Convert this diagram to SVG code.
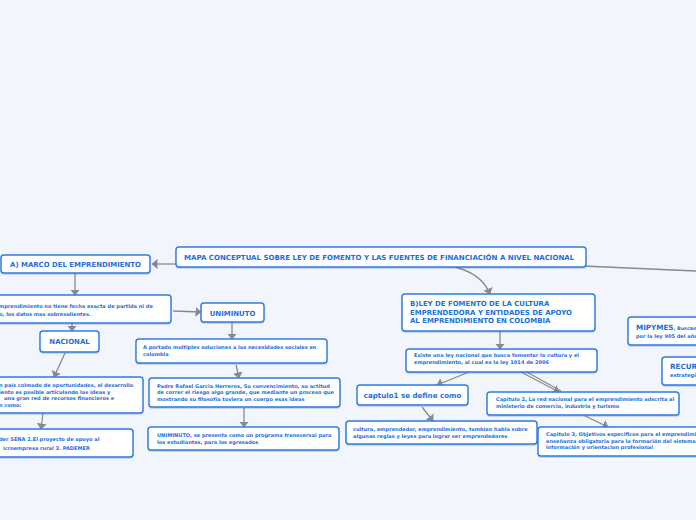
<svg xmlns="http://www.w3.org/2000/svg" width="696" height="520" viewBox="0 0 696 520">
<style>
.bg{fill:#f2f5fc}
.box{fill:#ffffff;stroke:#2d7be0;stroke-width:1.4;filter:url(#sh)}
.t{font-family:"DejaVu Sans",Verdana,sans-serif;font-weight:bold;fill:#1e6fd6}
.s{font-size:5.05px}
.m{font-size:6.95px}
.c{text-anchor:middle}
.cn{fill:none;stroke:#8a8a8a;stroke-width:1.3}
</style>
<defs>
<filter id="sh" x="-10%" y="-20%" width="120%" height="150%">
<feDropShadow dx="0" dy="1" stdDeviation="0.7" flood-color="#1e4f99" flood-opacity="0.25"/>
</filter>
<marker id="ar" viewBox="0 0 6 10" refX="5.5" refY="5" markerWidth="6" markerHeight="10" markerUnits="userSpaceOnUse" orient="auto">
<path d="M0,0 L6,5 L0,10 z" fill="#8a8a8a"/>
</marker>
</defs>
<rect class="bg" x="0" y="0" width="696" height="520"/>

<g id="connectors">
<path class="cn" d="M176,264 L152,264" marker-end="url(#ar)"/>
<path class="cn" d="M75,273 L75,295" marker-end="url(#ar)"/>
<path class="cn" d="M173,311 L201,312" marker-end="url(#ar)"/>
<path class="cn" d="M72,323 L72,331" marker-end="url(#ar)"/>
<path class="cn" d="M65,353 L54,377" marker-end="url(#ar)"/>
<path class="cn" d="M43,413 L41,429" marker-end="url(#ar)"/>
<path class="cn" d="M232,322 L232,339" marker-end="url(#ar)"/>
<path class="cn" d="M236,365 L239,378" marker-end="url(#ar)"/>
<path class="cn" d="M244,408 L244,427" marker-end="url(#ar)"/>
<path class="cn" d="M455,267 Q482,274 490,294" marker-end="url(#ar)"/>
<path class="cn" d="M583,266 L696,271"/>
<path class="cn" d="M500,331 L500,349" marker-end="url(#ar)"/>
<path class="cn" d="M469,372 L437,385" marker-end="url(#ar)"/>
<path class="cn" d="M422,407 L433,421" marker-end="url(#ar)"/>
<path class="cn" d="M521,372 L559,392" marker-end="url(#ar)"/>
<path class="cn" d="M525,371 L561,391"/>
<path class="cn" d="M583,415 L608,427" marker-end="url(#ar)"/>
</g>

<g id="title">
<rect class="box" x="176" y="247" width="410" height="20" rx="3"/>
<text class="t" x="184" y="259.5" font-size="7.02">MAPA CONCEPTUAL SOBRE LEY DE FOMENTO Y LAS FUENTES DE FINANCIACIÓN A NIVEL NACIONAL</text>
</g>

<g id="marco">
<rect class="box" x="1" y="255" width="149" height="18" rx="3"/>
<text class="t m c" x="75.5" y="267">A) MARCO DEL EMPRENDIMIENTO</text>
</g>

<g id="emprendimiento">
<rect class="box" x="-6" y="295" width="177" height="28" rx="3"/>
<text class="t s" x="-1" y="307.5">mprendimiento no tiene fecha exacta de partida ni de</text>
<text class="t s" x="-1" y="315.5">o, los datos mas sobresalientes.</text>
</g>

<g id="uniminuto">
<rect class="box" x="201" y="303" width="63" height="19" rx="3"/>
<text class="t m c" x="232.5" y="315.5">UNIMINUTO</text>
</g>

<g id="nacional">
<rect class="box" x="40" y="331" width="59" height="21" rx="3"/>
<text class="t m c" x="69.5" y="344">NACIONAL</text>
</g>

<g id="pais">
<rect class="box" x="-6" y="377" width="149" height="36" rx="3"/>
<text class="t s" x="-1" y="387">n país colmado de oportunidades, el desarrollo</text>
<text class="t s" x="-1" y="393.5">iento es posible articulando las ideas y</text>
<text class="t s" x="4" y="400">una gran red de recursos financieros e</text>
<text class="t s" x="-1" y="406.5">n como:</text>
</g>

<g id="sena">
<rect class="box" x="-6" y="429" width="139" height="28" rx="3"/>
<text class="t s" x="-1" y="441">der SENA 2.El proyecto de apoyo al</text>
<text class="t s" x="3" y="450">icroempresa rural 3. PADEMER</text>
</g>

<g id="aportado">
<rect class="box" x="136" y="339" width="191" height="24" rx="3"/>
<text class="t s" x="143" y="349">A portado multiples soluciones a las necesidades sociales en</text>
<text class="t s" x="143" y="355.5">colombia</text>
</g>

<g id="padre">
<rect class="box" x="149" y="378" width="191" height="29" rx="3"/>
<text class="t s" x="157" y="387.5">Padre Rafael Garcia Herreros, Su convencimiento, su actitud</text>
<text class="t s" x="157" y="394">de correr el riesgo algo grande, que mediante un proceso que</text>
<text class="t s" x="157" y="400.5">mostrando su filosofía tuviera un cuerpo esas ideas</text>
</g>

<g id="uniminuto2">
<rect class="box" x="148" y="427" width="191" height="23" rx="3"/>
<text class="t s" x="157" y="437">UNIMINUTO, se presenta como un programa transversal para</text>
<text class="t s" x="157" y="443.5">los estudiantes, para los egresados</text>
</g>

<g id="ley">
<rect class="box" x="402" y="294" width="193" height="37" rx="3"/>
<text class="t m" x="410" y="306">B)LEY DE FOMENTO DE LA CULTURA</text>
<text class="t m" x="410" y="314.5">EMPRENDEDORA Y ENTIDADES DE APOYO</text>
<text class="t m" x="410" y="323">AL EMPRENDIMIENTO EN COLOMBIA</text>
</g>

<g id="existe">
<rect class="box" x="406" y="349" width="191" height="23" rx="3"/>
<text class="t s" x="414" y="357">Existe una ley nacional que busca fomentar la cultura y el</text>
<text class="t s" x="414" y="364">emprendimiento, al cual es la ley 1014 de 2006</text>
</g>

<g id="captulo1">
<rect class="box" x="357" y="385" width="111" height="20" rx="3"/>
<text class="t c" x="412.5" y="397.8" font-size="7.1">captulo1 se define como</text>
</g>

<g id="cultura">
<rect class="box" x="346" y="421" width="191" height="23" rx="3"/>
<text class="t s" x="353" y="431">cultura, emprendedor, emprendimiento, tambien habla sobre</text>
<text class="t s" x="353" y="438">algunas reglas y leyes para lograr ser emprendedores</text>
</g>

<g id="capitulo2">
<rect class="box" x="487" y="392" width="192" height="23" rx="3"/>
<text class="t s" x="496" y="401">Capitulo 2, La red nacional para el emprendimiento adscrita al</text>
<text class="t s" x="496" y="407.5">ministerio de  comercio, industria y turismo</text>
</g>

<g id="capitulo3">
<rect class="box" x="538" y="427" width="170" height="29" rx="3"/>
<text class="t s" x="546" y="436">Capitulo 3, Objetivos especificos para el emprendimi</text>
<text class="t s" x="546" y="442.5">enseñanza obligatoria para la formación del sistema e</text>
<text class="t s" x="546" y="449">información y orientacion profesional</text>
</g>

<g id="mipymes">
<rect class="box" x="628" y="317" width="80" height="28" rx="3"/>
<text class="t" x="636" y="329.5"><tspan font-size="7.2">MIPYMES</tspan><tspan font-size="4.8">, Buscan</tspan></text>
<text class="t s" x="636" y="337.5">por la ley 905 del año</text>
</g>

<g id="recursos">
<rect class="box" x="662" y="357" width="50" height="28" rx="3"/>
<text class="t" x="670" y="369" font-size="7.2">RECUR</text>
<text class="t s" x="670" y="377">estrategi</text>
</g>
</svg>
